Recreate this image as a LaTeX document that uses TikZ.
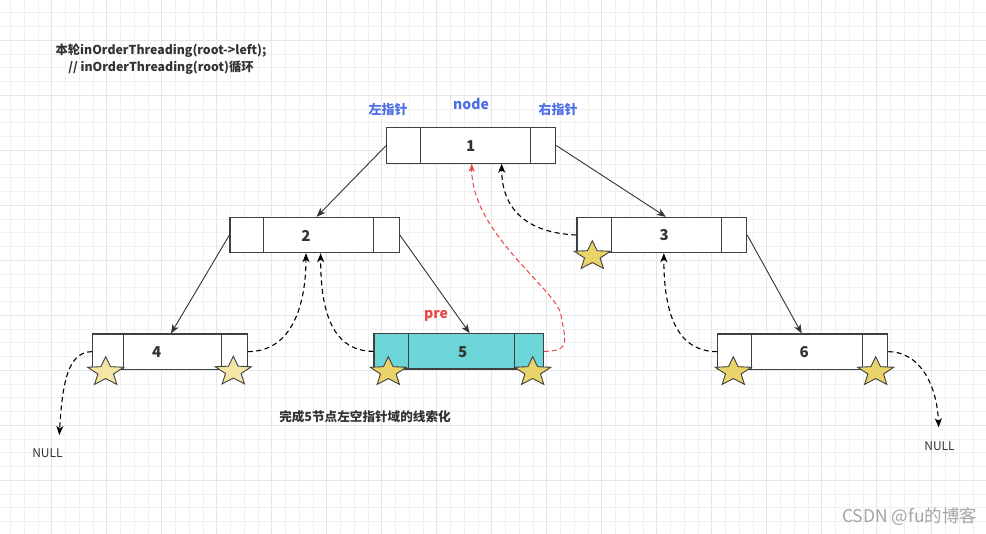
\documentclass[tikz,border=0pt]{standalone}
\usepackage{fontspec}
\setmainfont{Noto Sans CJK SC}
\usetikzlibrary{arrows.meta,calc}
\definecolor{gridminor}{RGB}{240,240,240}
\definecolor{gridmajor}{RGB}{230,230,230}
\definecolor{boxline}{RGB}{64,64,64}
\definecolor{txt}{RGB}{51,51,51}
\definecolor{blu}{RGB}{77,110,230}
\definecolor{redc}{RGB}{232,72,72}
\definecolor{cyanfill}{RGB}{108,213,216}
\definecolor{starpale}{RGB}{243,230,166}
\definecolor{stargold}{RGB}{233,212,106}
\definecolor{wm}{RGB}{165,165,165}
\newcommand\fs[1]{\fontsize{#1}{#1}\selectfont}
\newcommand\drawstar[3]{\draw[starline,fill=#3] plot[samples at={0,...,9}] ({#1+19*(0.43+0.57*(1-mod(\x,2)))*cos(90+36*\x)},{#2-15.3*(0.43+0.57*(1-mod(\x,2)))*sin(90+36*\x)}) -- cycle;}
\begin{document}
\begin{tikzpicture}[x=1pt,y=-1pt,
 tnode/.style={draw=boxline, line width=1.1pt, minimum height=35.3pt, inner sep=0pt, fill=white},
 divider/.style={draw=boxline, line width=1.1pt},
 numtxt/.style={text=txt, font=\fs{15}\bfseries, inner sep=0pt},
 conn/.style={draw=txt, line width=0.9pt, -{Stealth[length=9pt,width=7pt,inset=2.5pt]}},
 thread/.style={draw=black, line width=1.1pt, dash pattern=on 5pt off 3.5pt, -{Stealth[length=9pt,width=7pt,inset=2.5pt]}},
 redthread/.style={draw=redc, line width=1pt, dash pattern=on 5pt off 3pt, -{Stealth[length=8pt,width=6pt,inset=2pt]}},
 lbl/.style={inner sep=0pt},
 starline/.style={draw=boxline, line width=0.9pt, line join=miter}
]
\path[use as bounding box, fill=white] (0,0) rectangle (986,534);
% grid
\foreach \i in {0,...,71} \draw[gridminor, line width=0.8pt] ({10.5+13.75*\i},0) -- ({10.5+13.75*\i},534);
\foreach \j in {0,...,39} \draw[gridminor, line width=0.8pt] (0,{-1.05+13.75*\j}) -- (986,{-1.05+13.75*\j});
\foreach \i in {0,...,17} \draw[gridmajor, line width=1.2pt] ({51.75+55*\i},0) -- ({51.75+55*\i},534);
\foreach \j in {0,...,9} \draw[gridmajor, line width=1.2pt] (0,{40.2+55*\j}) -- (986,{40.2+55*\j});

% tree nodes
\node[tnode, minimum width=169pt] (n1) at (471.2,145.5) {};
\node[tnode, minimum width=169.3pt] (n2) at (314.65,235) {};
\node[tnode, minimum width=169.7pt] (n3) at (661.85,235) {};
\node[tnode, minimum width=154.6pt] (n4) at (170,351.65) {};
\node[tnode, minimum width=169.3pt, fill=cyanfill] (n5) at (458.65,351.35) {};
\node[tnode, minimum width=170pt] (n6) at (802.7,351.65) {};

\draw[divider] ([xshift=34pt]n1.north west) -- ([xshift=34pt]n1.south west);
\draw[divider] ([xshift=-25.7pt]n1.north east) -- ([xshift=-25.7pt]n1.south east);
\draw[divider] ([xshift=34pt]n2.north west) -- ([xshift=34pt]n2.south west);
\draw[divider] ([xshift=-26pt]n2.north east) -- ([xshift=-26pt]n2.south east);
\draw[divider] ([xshift=34.7pt]n3.north west) -- ([xshift=34.7pt]n3.south west);
\draw[divider] ([xshift=-26pt]n3.north east) -- ([xshift=-26pt]n3.south east);
\draw[divider] ([xshift=31pt]n4.north west) -- ([xshift=31pt]n4.south west);
\draw[divider] ([xshift=-26.6pt]n4.north east) -- ([xshift=-26.6pt]n4.south east);
\draw[divider] ([xshift=34.7pt]n5.north west) -- ([xshift=34.7pt]n5.south west);
\draw[divider] ([xshift=-29.3pt]n5.north east) -- ([xshift=-29.3pt]n5.south east);
\draw[divider] ([xshift=34pt]n6.north west) -- ([xshift=34pt]n6.south west);
\draw[divider] ([xshift=-26pt]n6.north east) -- ([xshift=-26pt]n6.south east);

\node[numtxt] (n1t) at (470.7,146.5) {1};
\node[numtxt] (n2t) at (306,235.5) {2};
\node[numtxt] (n3t) at (664.3,235.5) {3};
\node[numtxt] (n4t) at (156.7,352) {4};
\node[numtxt] (n5t) at (462.7,352) {5};
\node[numtxt] (n6t) at (804.3,352) {6};

% labels
\node[lbl, text=blu, font=\fs{13}\bfseries] (lleft) at (388,109.5) {左指针};
\node[lbl, text=blu, font=\fs{14}\bfseries] (lnode) at (471,104.5) {node};
\node[lbl, text=blu, font=\fs{13}\bfseries] (lright) at (558,109.5) {右指针};
\node[lbl, text=redc, font=\fs{14}\bfseries] (lpre) at (436,316) {pre};
\node[lbl, text=txt, font=\fontsize{12.3}{17}\selectfont\bfseries, align=center] (ltop) at (161,59.5) {本轮inOrderThreading(root->left);\\// inOrderThreading(root)循环};
\node[lbl, text=txt, font=\fs{12.6}\bfseries] (lbottom) at (365,417) {完成5节点左空指针域的线索化};
\node[lbl, text=txt, font=\fs{12}] (null1t) at (47.5,453) {NULL};
\node[lbl, text=txt, font=\fs{12}] (null2t) at (939.5,446) {NULL};
\node[lbl, text=wm, font=\fs{17.5}] (wmk) at (909.7,516.5) {CSDN @fu的博客};

\coordinate (null1) at (59.3,435);
\coordinate (null2) at (938.7,427.3);

% tree edges
\draw[conn] (n1.west) -- ([xshift=2pt]n2.north);
\draw[conn] (n1.east) -- ([xshift=4pt]n3.north);
\draw[conn] (n2.west) -- ([xshift=1pt]n4.north);
\draw[conn] (n2.east) -- ([xshift=11pt]n5.north);
\draw[conn] (n3.east) -- ([xshift=-1pt]n6.north);

% threads
\draw[thread] (n4.west) .. controls +(-25,0) and +(3,-50) .. (null1);
\draw[thread] (n6.east) .. controls +(30,0) and +(-2,-45) .. (null2);
\draw[thread] (n4.east) .. controls +(45,0) and +(0,50) .. ([xshift=-8.7pt]n2.south);
\draw[thread] (n5.west) .. controls +(-45,0) and +(0,50) .. ([xshift=6pt]n2.south);
\draw[thread] (n3.west) .. controls +(-50,-2) and +(0,45) .. ([xshift=30.5pt]n1.south);
\draw[thread] (n6.west) .. controls +(-45,0) and +(0,50) .. ([xshift=2pt]n3.south);
\draw[redthread] (n5.east) .. controls +(28,0) and +(4,25) .. (561,315) .. controls +(-4,-25) and +(0,70) .. ([xshift=0.5pt]n1.south);

% stars
\drawstar{105.7}{372}{starpale}
\drawstar{233.3}{371.5}{starpale}
\drawstar{388.3}{372}{stargold}
\drawstar{532.7}{372}{stargold}
\drawstar{733.3}{372}{stargold}
\drawstar{875.7}{372}{stargold}
\drawstar{592.3}{256}{stargold}
\end{tikzpicture}
\end{document}
